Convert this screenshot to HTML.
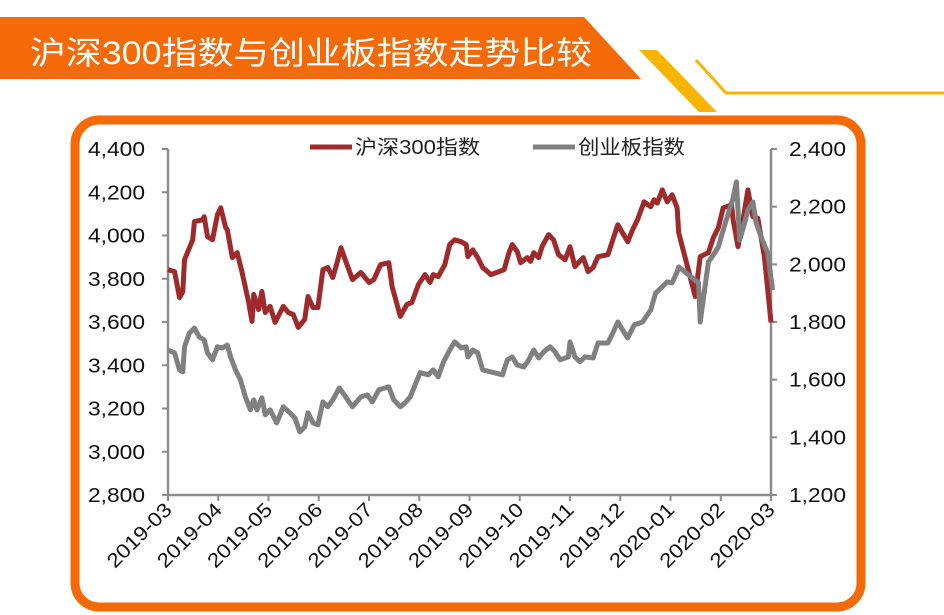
<!DOCTYPE html>
<html><head><meta charset="utf-8"><style>
html,body{margin:0;padding:0;background:#fff;}
svg{display:block;font-family:"Liberation Sans","Noto Sans CJK SC",sans-serif;}
</style></head><body>
<svg width="944" height="615" viewBox="0 0 944 615">
<polygon points="0,17 584,17 641,79 0,79" fill="#f56a08"/>
<text x="30" y="64" fill="#fff" font-size="32" textLength="562" lengthAdjust="spacingAndGlyphs">沪深300指数与创业板指数走势比较</text>
<polygon points="639,50 657,50 717,112 699,112" fill="#f7b500"/>
<polyline points="696,60 726,93 944,93" fill="none" stroke="#f7b500" stroke-width="3"/>
<rect x="75" y="120" width="786" height="487" rx="24" fill="#fff" stroke="#f56a08" stroke-width="9"/>
<g id="axes"></g>
<g id="plot"></g>
<g>
<line x1="310" y1="147" x2="352" y2="147" stroke="#9e2a2b" stroke-width="5"/>
<text x="355" y="154" font-size="20" fill="#222" textLength="125" lengthAdjust="spacingAndGlyphs">沪深300指数</text>
<line x1="533" y1="147" x2="575" y2="147" stroke="#808080" stroke-width="5"/>
<text x="578" y="154" font-size="20" fill="#222" textLength="107" lengthAdjust="spacingAndGlyphs">创业板指数</text>
</g>
</svg>
<script>
const monthLabels=["2019-03","2019-04","2019-05","2019-06","2019-07","2019-08","2019-09","2019-10","2019-11","2019-12","2020-01","2020-02","2020-03"];
const leftTicks=[2800,3000,3200,3400,3600,3800,4000,4200,4400];
const rightTicks=[1200,1400,1600,1800,2000,2200,2400];
const csiDays=[0,4,7,9,10,15,16,21,22,24,27,30,32,35,36,39,42,45,49,51,52,55,57,59,62,65,70,73,76,79,83,85,88,91,94,97,100,102,105,108,112,117,122,125,129,134,136,141,145,148,152,156,159,161,164,168,171,174,178,181,182,185,188,191,196,204,207,209,212,214,218,220,222,225,227,231,234,237,241,244,247,252,255,258,261,267,270,273,279,282,285,289,293,295,297,300,303,306,309,310,320,323,328,331,334,337,342,343,346,349,352,355,358,362,366];
const csiValues=[3842,3833,3713,3740,3888,3980,4064,4073,4087,3995,3980,4096,4128,4036,4027,3898,3921,3829,3690,3603,3727,3658,3741,3644,3672,3598,3672,3644,3635,3575,3612,3718,3667,3667,3842,3852,3806,3856,3944,3879,3796,3829,3783,3796,3865,3874,3764,3626,3681,3690,3773,3819,3783,3819,3810,3865,3958,3980,3971,3958,3902,3934,3898,3852,3819,3842,3921,3958,3925,3874,3898,3880,3921,3898,3948,4004,3980,3911,3888,3948,3856,3898,3833,3852,3902,3911,3980,4050,3971,4027,4073,4156,4133,4165,4150,4211,4156,4188,4128,4013,3718,3902,3921,3990,4036,4128,4142,4073,3948,4073,4211,4087,4080,3902,3598];
const gemDays=[0,4,7,9,10,13,16,19,22,24,27,30,33,36,38,41,44,47,50,52,54,57,59,62,66,70,74,77,80,83,85,88,91,94,97,100,104,107,112,117,121,124,128,134,137,141,144,147,153,158,161,164,167,171,174,178,181,182,185,188,191,196,203,206,209,212,216,219,222,225,228,232,235,238,243,244,247,250,253,258,261,267,270,273,276,279,283,288,293,296,300,303,306,309,310,322,323,328,331,334,337,343,345,347,350,352,355,357,360,364,367];
const gemValues=[1703,1693,1634,1627,1714,1762,1779,1748,1738,1693,1669,1714,1710,1720,1679,1634,1599,1540,1495,1530,1495,1537,1478,1495,1450,1506,1485,1467,1419,1436,1485,1450,1443,1523,1506,1530,1571,1547,1506,1540,1547,1523,1565,1575,1530,1506,1520,1540,1624,1617,1634,1610,1658,1703,1731,1710,1714,1679,1703,1693,1634,1627,1617,1669,1679,1651,1644,1669,1703,1675,1696,1714,1696,1669,1679,1731,1679,1662,1679,1675,1727,1727,1762,1800,1772,1745,1790,1800,1842,1901,1922,1939,1936,1973,1991,1936,1800,2008,2032,2060,2119,2230,2286,2084,2143,2189,2216,2143,2095,2039,1911,1901];
const NS="http://www.w3.org/2000/svg";
const X0=168,X1=771,Y0=495,Y1=149,DAYS=366;
function xDay(d){return X0+(X1-X0)*d/DAYS;}
function xMonth(i){return X0+(X1-X0)*i/12;}
function yL(v){return Y0-(Y0-Y1)*(v-2800)/1600;}
function yR(v){return Y0-(Y0-Y1)*(v-1200)/1200;}
function mk(tag,attrs,parent){const e=document.createElementNS(NS,tag);for(const k in attrs)e.setAttribute(k,attrs[k]);parent.appendChild(e);return e;}
const axes=document.getElementById('axes'),plot=document.getElementById('plot');
const ax="#8c8c8c";
let l=mk('line',{x1:X0,y1:Y1,x2:X0,y2:Y0,stroke:ax,'stroke-width':2.5},axes);


l=mk('line',{x1:X1,y1:Y1,x2:X1,y2:Y0,stroke:ax,'stroke-width':2.5},axes);


l=mk('line',{x1:X0,y1:Y0,x2:X1,y2:Y0,stroke:ax,'stroke-width':2.5},axes);


leftTicks.forEach(v=>{const y=yL(v);
 let t=mk('line',{x1:X0-6,y1:y,x2:X0,y2:y,stroke:ax,'stroke-width':2},axes);
 
 
 let tx=mk('text',{x:X0-23,y:y+7,'text-anchor':'end','font-size':20,fill:'#111',textLength:57,lengthAdjust:'spacingAndGlyphs'},axes);
 tx.textContent=v.toLocaleString('en-US');
 
 });
rightTicks.forEach(v=>{const y=yR(v);
 let t=mk('line',{x1:X1,y1:y,x2:X1+6,y2:y,stroke:ax,'stroke-width':2},axes);
 
 
 let tx=mk('text',{x:X1+18,y:y+7,'font-size':20,fill:'#111',textLength:57,lengthAdjust:'spacingAndGlyphs'},axes);
 tx.textContent=v.toLocaleString('en-US');
 
 });
monthLabels.forEach((m,i)=>{const x=xMonth(i);
 let t=mk('line',{x1:x,y1:Y0,x2:x,y2:Y0+6,stroke:ax,'stroke-width':2},axes);
 
 
 let tx=mk('text',{x:x+5,y:Y0+16,'text-anchor':'end','font-size':20,fill:'#111',textLength:82,lengthAdjust:'spacingAndGlyphs',transform:`rotate(-45 ${x+5} ${Y0+16})`},axes);
 tx.textContent=m;
 
 });
let p=mk('polyline',{points:csiDays.map((d,i)=>xDay(d).toFixed(1)+','+yL(csiValues[i]).toFixed(1)).join(' '),fill:'none',stroke:'#9e2a2b','stroke-width':5,'stroke-linejoin':'round'},plot);


p=mk('polyline',{points:gemDays.map((d,i)=>xDay(d).toFixed(1)+','+yR(gemValues[i]).toFixed(1)).join(' '),fill:'none',stroke:'#808080','stroke-width':5,'stroke-linejoin':'round'},plot);


</script>
</body></html>
